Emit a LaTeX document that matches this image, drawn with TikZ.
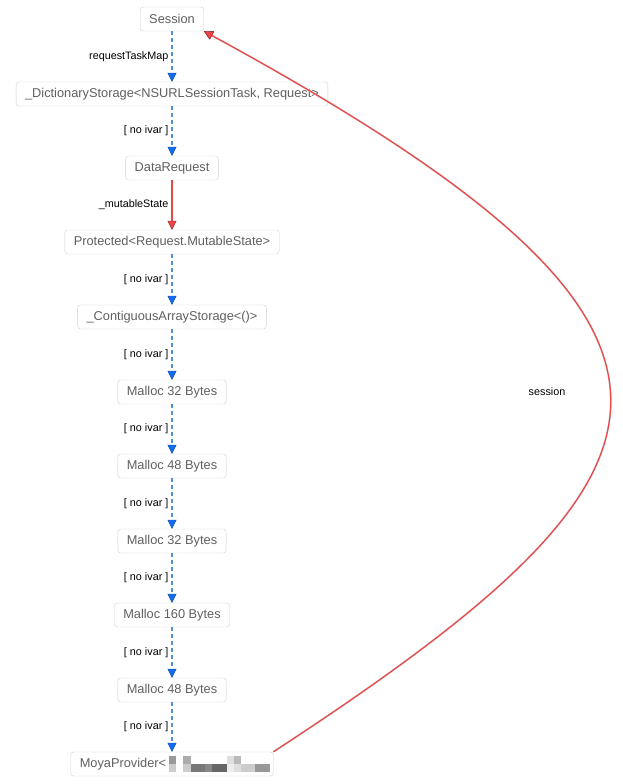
\documentclass[tikz,border=0pt]{standalone}
\usepackage{fontspec}
\setmainfont{Liberation Sans}
\usetikzlibrary{arrows.meta}
\definecolor{ivarblue}{RGB}{78,142,222}
\definecolor{tipblue}{RGB}{22,108,238}
\definecolor{refred}{RGB}{236,70,70}
\definecolor{boxtext}{RGB}{96,96,96}
\tikzset{
  objbox/.style={ draw=black!18, rounded corners=3pt, fill=white, text=boxtext, font=\fontsize{12.8}{14}\selectfont, minimum height=24pt, inner xsep=9pt, inner ysep=0pt }
}
\tikzset{
  noivar/.style={ ivarblue, line width=1.2pt, dash pattern=on 4pt off 3pt, -{Triangle[length=9pt,width=9pt,color=tipblue!70!black,fill=tipblue,line width=0.4pt]} }
}
\tikzset{
  strongref/.style={ refred, line width=1.2pt, -{Triangle[length=9pt,width=9pt,color=refred!60!black,fill=refred,line width=0.4pt]} }
}
\tikzset{
  backref/.style={ strongref, preaction={draw, black!18, line width=1.9pt} }
}
\tikzset{
  lbl/.style={ text=black, font=\fontsize{10.8}{12}\selectfont, inner xsep=3pt }
}

\begin{document}
\begin{tikzpicture}[x=1pt, y=-1pt]
      \useasboundingbox (0,0) rectangle (622,784);

      \node[objbox] (sess) at (172, 19) {Session};
      \node[objbox] (dict) at (172, 94) {\_DictionaryStorage<NSURLSessionTask, Request>};
      \node[objbox] (dreq) at (172, 168) {DataRequest};
      \node[objbox] (prot) at (172, 242) {Protected<Request.MutableState>};
      \node[objbox] (cont) at (172, 317) {\_ContiguousArrayStorage<()>};
      \node[objbox] (mal1) at (172, 392) {Malloc 32 Bytes};
      \node[objbox] (mal2) at (172, 466) {Malloc 48 Bytes};
      \node[objbox] (mal3) at (172, 541) {Malloc 32 Bytes};
      \node[objbox] (mal4) at (172, 615) {Malloc 160 Bytes};
      \node[objbox] (mal5) at (172, 690) {Malloc 48 Bytes};
      \node[objbox] (moya) at (172, 764) {MoyaProvider<\rule{98pt}{0pt}};

      % blurred part of the type name
      \foreach \c/\r/\g in {0/0/40, 2/0/33, 8/0/13, 9/0/27,
                            0/1/20, 2/1/20, 3/1/53, 4/1/53, 5/1/47, 6/1/60, 7/1/60,
                            8/1/7, 9/1/13, 10/1/20, 11/1/20, 12/1/40, 13/1/40}
        \fill[black!\g] (169+7.2*\c, 756+8*\r) rectangle ++(7.2, 8);

      \draw[noivar] (sess) -- node[lbl, midway, left] {requestTaskMap} (dict);
      \draw[noivar] (dict) -- node[lbl, midway, left] {[ no ivar ]} (dreq);
      \draw[strongref] (dreq) -- node[lbl, midway, left] {\_mutableState} (prot);
      \draw[noivar] (prot) -- node[lbl, midway, left] {[ no ivar ]} (cont);
      \draw[noivar] (cont) -- node[lbl, midway, left] {[ no ivar ]} (mal1);
      \draw[noivar] (mal1) -- node[lbl, midway, left] {[ no ivar ]} (mal2);
      \draw[noivar] (mal2) -- node[lbl, midway, left] {[ no ivar ]} (mal3);
      \draw[noivar] (mal3) -- node[lbl, midway, left] {[ no ivar ]} (mal4);
      \draw[noivar] (mal4) -- node[lbl, midway, left] {[ no ivar ]} (mal5);
      \draw[noivar] (mal5) -- node[lbl, midway, left] {[ no ivar ]} (moya);

      \draw[backref] (moya.north east) .. controls (705, 470) and (762, 335) .. (sess.south east);
      \node[lbl] (slbl) at (547, 392) {session};
    \end{tikzpicture}
\end{document}
